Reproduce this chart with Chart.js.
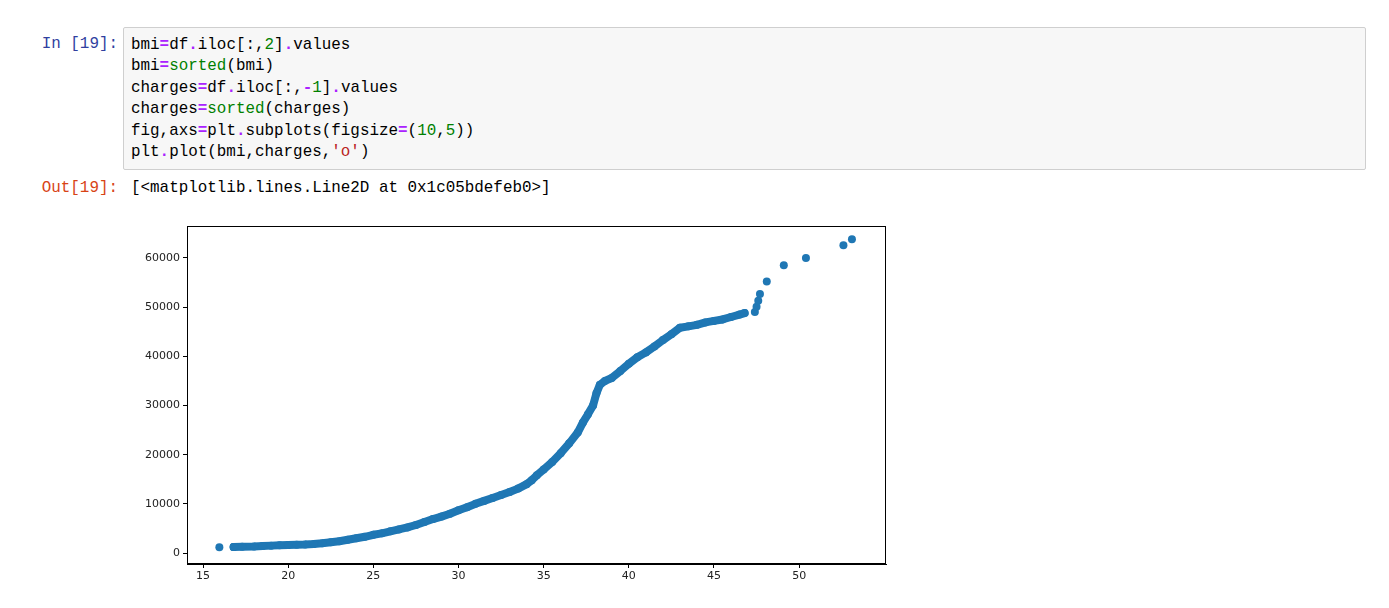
<!DOCTYPE html>
<html>
<head>
<meta charset="utf-8">
<script src="https://cdn.jsdelivr.net/npm/chart.js@4"></script>
<style>
  body { margin: 0; background: #fff; font-family: "Liberation Mono", monospace; }
  .prompt { position: absolute; left: 0; width: 118px; text-align: right; font-size: 15.9px; }
  .in { color: #303F9F; top: 35px; }
  .out { color: #D84315; top: 179px; }
  .cell { position: absolute; left: 123px; top: 27px; width: 1243px; height: 143px;
          background: #f7f7f7; border: 1px solid #cfcfcf; border-radius: 2px; box-sizing: border-box; }
  pre { margin: 0; padding: 7px 7px; font-size: 15.9px; line-height: 21.4px; font-family: inherit; color: #000; }
  .o { color: #AA22FF; font-weight: bold; }
  .n { color: #008000; }
  .s { color: #BA2121; }
  .res { position: absolute; left: 131px; top: 179px; font-size: 15.9px; }
  #wrap { position: absolute; left: 130px; top: 215px; width: 770px; height: 380px; }
</style>
</head>
<body>
<div class="prompt in">In&nbsp;[19]:</div>
<div class="cell"><pre>bmi<span class="o">=</span>df<span class="o">.</span>iloc[:,<span class="n">2</span>]<span class="o">.</span>values
bmi<span class="o">=</span><span class="n">sorted</span>(bmi)
charges<span class="o">=</span>df<span class="o">.</span>iloc[:,<span class="o">-</span><span class="n">1</span>]<span class="o">.</span>values
charges<span class="o">=</span><span class="n">sorted</span>(charges)
fig,axs<span class="o">=</span>plt<span class="o">.</span>subplots(figsize<span class="o">=</span>(<span class="n">10</span>,<span class="n">5</span>))
plt<span class="o">.</span>plot(bmi,charges,<span class="s">'o'</span>)</pre></div>
<div class="prompt out">Out[19]:</div>
<div class="res">[&lt;matplotlib.lines.Line2D at 0x1c05bdefeb0&gt;]</div>
<div id="wrap"><canvas id="chart"></canvas></div>
<script>
// dense part of the sorted bmi / charges curve
var bmiDense = [16.8, 17.3, 18, 18.5, 19, 19.5, 20, 20.5, 21, 21.5, 22, 22.5, 23, 23.5, 24, 24.5, 25, 25.5, 26, 26.5,
    27, 27.5, 28, 28.5, 29, 29.5, 30, 30.5, 31, 31.5, 32, 32.5, 33, 33.5, 34, 34.3, 34.6, 35, 35.5, 36, 36.5, 37,
    37.3, 37.6, 37.9, 38.1, 38.3, 38.6, 39, 39.5, 40, 40.5, 41, 41.5, 42, 42.5, 43, 43.5, 44, 44.5, 45, 45.5, 46, 46.5, 46.8];
var chargesDense = [1200, 1250, 1300, 1400, 1500, 1600, 1650, 1700, 1750, 1850, 2000, 2200, 2400, 2700, 3000, 3300, 3700, 4000, 4400, 4800,
    5200, 5700, 6300, 6900, 7400, 8000, 8700, 9300, 10000, 10600, 11200, 11800, 12400, 13100, 14000, 14800, 15800, 17000, 18500, 20300, 22300, 24500,
    26500, 28200, 30000, 32500, 34200, 35000, 35600, 37000, 38500, 39800, 40800, 42000, 43300, 44500, 45800, 46100, 46400, 46900, 47200, 47500, 48000, 48500, 48800];
// sparse points at the ends
var bmiSparse = [15.96, 16.8, 47.4, 47.5, 47.6, 47.7, 48.1, 49.1, 50.4, 52.6, 53.1];
var chargesSparse = [1150, 1200, 49000, 50100, 51300, 52700, 55200, 58500, 60000, 62600, 63800];
var xTicks = [15, 20, 25, 30, 35, 40, 45, 50];
var yTicks = [0, 10000, 20000, 30000, 40000, 50000, 60000];

var blue = '#1f77b4';
var toPoints = function (xs, ys) {
    return xs.map(function (x, i) { return { x: x, y: ys[i] }; });
};

var frame = {
    id: 'frame',
    afterDraw: function (chart) {
        var a = chart.chartArea, ctx = chart.ctx;
        ctx.save();
        ctx.strokeStyle = '#000';
        ctx.lineWidth = 1;
        ctx.strokeRect(a.left + 0.5, a.top + 0.5, a.right - a.left - 1, a.bottom - a.top - 1);
        ctx.restore();
    }
};

var axisFont = { family: 'DejaVu Sans', size: 11 };
new Chart(document.getElementById('chart'), {
    type: 'scatter',
    data: {
        datasets: [{
            data: toPoints(bmiDense, chargesDense),
            showLine: true, borderColor: blue, borderWidth: 8, borderCapStyle: 'round', borderJoinStyle: 'round',
            backgroundColor: blue, pointRadius: 4, pointBorderWidth: 0, tension: 0
        }, {
            data: toPoints(bmiSparse, chargesSparse),
            backgroundColor: blue, borderColor: blue, pointRadius: 4, pointBorderWidth: 0
        }]
    },
    plugins: [frame],
    options: {
        animation: false, responsive: true, maintainAspectRatio: false,
        layout: { padding: { top: 11, right: 14, left: 0, bottom: 0 } },
        plugins: { legend: { display: false }, tooltip: { enabled: false } },
        scales: {
            x: {
                type: 'linear', min: 14.06, max: 55.1,
                afterFit: function (s) { s.height = 31; },
                afterBuildTicks: function (s) { s.ticks = xTicks.map(function (v) { return { value: v }; }); },
                grid: { drawOnChartArea: false, tickLength: 4, color: '#000' },
                border: { color: '#000' },
                ticks: { color: '#222', font: axisFont, padding: 2, maxRotation: 0 }
            },
            y: {
                min: -2237, max: 66508,
                afterFit: function (s) { s.width = 57; },
                afterBuildTicks: function (s) { s.ticks = yTicks.map(function (v) { return { value: v }; }); },
                grid: { drawOnChartArea: false, tickLength: 4, color: '#000' },
                border: { color: '#000' },
                ticks: { color: '#222', font: axisFont, padding: 3, callback: function (v) { return String(v); } }
            }
        }
    }
});
</script>
</body>
</html>
